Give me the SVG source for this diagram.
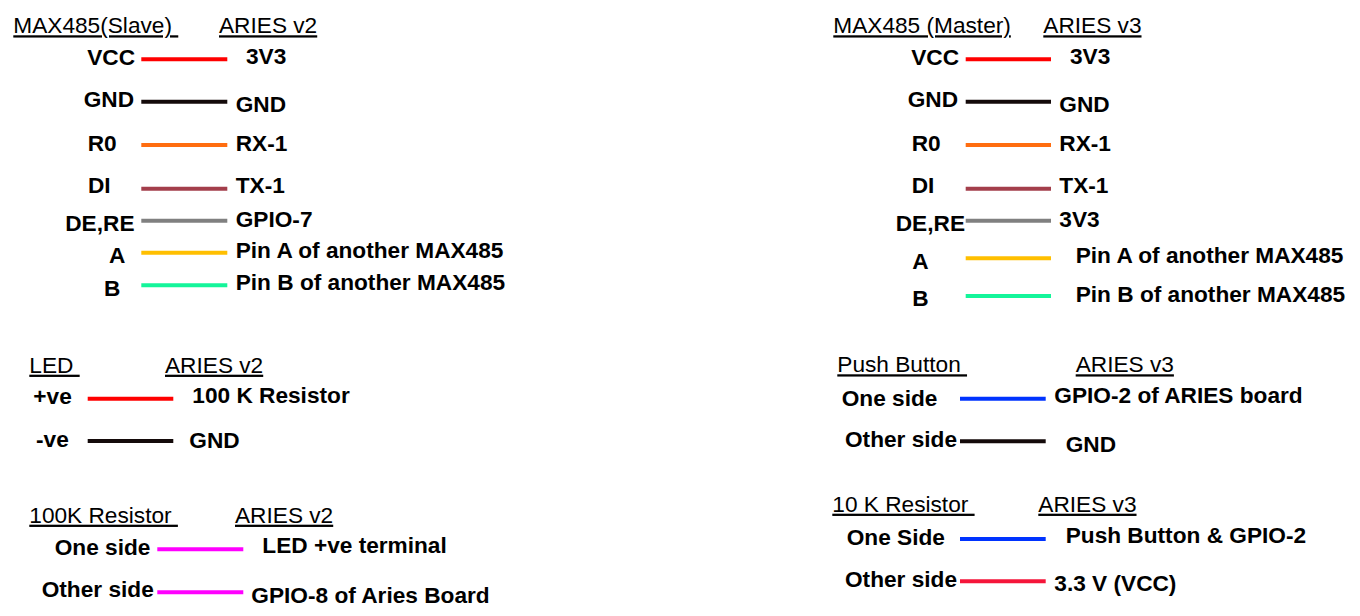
<svg xmlns="http://www.w3.org/2000/svg" width="1360" height="616" viewBox="0 0 1360 616">
<style>
  text { font-family: "Liberation Sans", Arial, sans-serif; font-size: 22.67px; fill: #000; }
  .h { text-decoration: underline; white-space: pre; }
  .b { font-weight: bold; }
  .r { text-anchor: end; }
  line { stroke-width: 4; }
  .red { stroke: #ff0000; }
  .blk { stroke: #140a0a; }
  .org { stroke: #ff6d10; }
  .mar { stroke: #a33e4b; }
  .gry { stroke: #808080; }
  .yel { stroke: #ffbf00; }
  .grn { stroke: #14f59a; }
  .mag { stroke: #ff00ff; }
  .blu { stroke: #0033ff; }
  .crm { stroke: #f5153a; }
</style>
<rect width="1360" height="616" fill="#ffffff"/>

<!-- Section 1: MAX485 (Slave) to ARIES v2 -->
<g id="slave-section">
  <g id="h-slave"><text class="h" x="13.3" y="33.3" xml:space="preserve">MAX485(Slave) </text></g>
  <g id="h-aries-v2-a"><text class="h" x="219" y="33.3">ARIES v2</text></g>
  <g id="s-vcc"><text class="b r" x="135" y="65">VCC</text></g>
  <g id="s-3v3"><text class="b" x="246" y="64.3">3V3</text></g>
  <g id="s-gnd"><text class="b r" x="134" y="107.3">GND</text></g>
  <g id="s-gnd2"><text class="b" x="235.7" y="112.3">GND</text></g>
  <g id="s-r0"><text class="b" x="87.7" y="151">R0</text></g>
  <g id="s-rx1"><text class="b" x="235.7" y="151">RX-1</text></g>
  <g id="s-di"><text class="b" x="88" y="193.3">DI</text></g>
  <g id="s-tx1"><text class="b" x="235.7" y="193.3">TX-1</text></g>
  <g id="s-dere"><text class="b r" x="134.5" y="231.3">DE,RE</text></g>
  <g id="s-gpio7"><text class="b" x="235.7" y="226.7">GPIO-7</text></g>
  <g id="s-a"><text class="b" x="109" y="263.3">A</text></g>
  <g id="s-pina"><text class="b" x="235.7" y="258.3">Pin A of another MAX485</text></g>
  <g id="s-b"><text class="b" x="104" y="296">B</text></g>
  <g id="s-pinb"><text class="b" x="235.7" y="290">Pin B of another MAX485</text></g>
</g>

<!-- Section 2: MAX485 (Master) to ARIES v3 -->
<g id="master-section">
  <g id="h-master"><text class="h" x="833.3" y="33.3">MAX485 (Master)</text></g>
  <g id="h-aries-v3-a"><text class="h" x="1043.3" y="33.3">ARIES v3</text></g>
  <g id="m-vcc"><text class="b r" x="959" y="65">VCC</text></g>
  <g id="m-3v3"><text class="b" x="1070" y="64.3">3V3</text></g>
  <g id="m-gnd"><text class="b r" x="958" y="107.3">GND</text></g>
  <g id="m-gnd2"><text class="b" x="1059.3" y="112.3">GND</text></g>
  <g id="m-r0"><text class="b" x="911.7" y="151">R0</text></g>
  <g id="m-rx1"><text class="b" x="1059.3" y="151">RX-1</text></g>
  <g id="m-di"><text class="b" x="911.7" y="193.3">DI</text></g>
  <g id="m-tx1"><text class="b" x="1059.3" y="193.3">TX-1</text></g>
  <g id="m-dere"><text class="b r" x="965" y="231.3">DE,RE</text></g>
  <g id="m-3v3b"><text class="b" x="1059.3" y="226.7">3V3</text></g>
  <g id="m-a"><text class="b" x="912.3" y="269.3">A</text></g>
  <g id="m-pina"><text class="b" x="1075.7" y="263.3">Pin A of another MAX485</text></g>
  <g id="m-b"><text class="b" x="912.3" y="306">B</text></g>
  <g id="m-pinb"><text class="b" x="1075.7" y="301.7">Pin B of another MAX485</text></g>
</g>

<!-- Section 3: LED to ARIES v2 -->
<g id="led-section">
  <g id="h-led"><text class="h" x="29.3" y="372.7" xml:space="preserve">LED </text></g>
  <g id="h-aries-v2-b"><text class="h" x="165" y="372.7">ARIES v2</text></g>
  <g id="l-pos"><text class="b" x="33.3" y="404.3">+ve</text></g>
  <g id="l-res"><text class="b" x="192.3" y="403.3">100 K Resistor</text></g>
  <g id="l-neg"><text class="b" x="36" y="446.7">-ve</text></g>
  <g id="l-gnd"><text class="b" x="189.3" y="448.3">GND</text></g>
</g>

<!-- Section 4: 100K Resistor to ARIES v2 -->
<g id="resistor100k-section">
  <g id="h-res100k"><text class="h" x="29.3" y="522.7" xml:space="preserve">100K Resistor </text></g>
  <g id="h-aries-v2-c"><text class="h" x="235" y="522.7">ARIES v2</text></g>
  <g id="r-one"><text class="b" x="54.7" y="555">One side</text></g>
  <g id="r-ledpos"><text class="b" x="262.3" y="553.3">LED +ve terminal</text></g>
  <g id="r-other"><text class="b" x="41.7" y="597.3">Other side</text></g>
  <g id="r-gpio8"><text class="b" x="251.3" y="603.3">GPIO-8 of Aries Board</text></g>
</g>

<!-- Section 5: Push Button to ARIES v3 -->
<g id="button-section">
  <g id="h-button"><text class="h" x="837.3" y="372.3" xml:space="preserve">Push Button </text></g>
  <g id="h-aries-v3-b"><text class="h" x="1075.7" y="372.3">ARIES v3</text></g>
  <g id="p-one"><text class="b" x="841.7" y="405.7">One side</text></g>
  <g id="p-gpio2"><text class="b" x="1054.3" y="403.3">GPIO-2 of ARIES board</text></g>
  <g id="p-other"><text class="b" x="845" y="446.7">Other side</text></g>
  <g id="p-gnd"><text class="b" x="1065.7" y="452.3">GND</text></g>
</g>

<!-- Section 6: 10 K Resistor to ARIES v3 -->
<g id="resistor10k-section">
  <g id="h-res10k"><text class="h" x="832.3" y="511.7" xml:space="preserve">10 K Resistor </text></g>
  <g id="h-aries-v3-c"><text class="h" x="1038.3" y="511.7">ARIES v3</text></g>
  <g id="k-one"><text class="b" x="846.7" y="545">One Side</text></g>
  <g id="k-pbgpio"><text class="b" x="1065.7" y="543.3">Push Button &amp; GPIO-2</text></g>
  <g id="k-other"><text class="b" x="845" y="586.7">Other side</text></g>
  <g id="k-vcc"><text class="b" x="1054.3" y="591">3.3 V (VCC)</text></g>
</g>

<!-- Connectors -->
<g id="connectors">
  <line class="red" x1="141.3" y1="59.3" x2="227.3" y2="59.3"/>
  <line class="blk" x1="141.3" y1="101.7" x2="227.3" y2="101.7"/>
  <line class="org" x1="141.3" y1="145" x2="227.3" y2="145"/>
  <line class="mar" x1="141.3" y1="188.7" x2="227.3" y2="188.7"/>
  <line class="gry" x1="141.3" y1="220.7" x2="227.3" y2="220.7"/>
  <line class="yel" x1="141.3" y1="252.7" x2="227.3" y2="252.7"/>
  <line class="grn" x1="141.3" y1="285.3" x2="227.3" y2="285.3"/>

  <line class="red" x1="965.7" y1="59.3" x2="1051" y2="59.3"/>
  <line class="blk" x1="965.7" y1="101.7" x2="1051" y2="101.7"/>
  <line class="org" x1="965.7" y1="145" x2="1051" y2="145"/>
  <line class="mar" x1="965.7" y1="188.7" x2="1051" y2="188.7"/>
  <line class="gry" x1="965.7" y1="220.7" x2="1051" y2="220.7"/>
  <line class="yel" x1="965.7" y1="258.3" x2="1051" y2="258.3"/>
  <line class="grn" x1="965.7" y1="296" x2="1051" y2="296"/>

  <line class="red" x1="87.7" y1="398.7" x2="173.3" y2="398.7"/>
  <line class="blk" x1="87.7" y1="441" x2="173.3" y2="441"/>

  <line class="mag" x1="157.3" y1="549.3" x2="243.3" y2="549.3"/>
  <line class="mag" x1="157.3" y1="592.3" x2="243.3" y2="592.3"/>

  <line class="blu" x1="960" y1="398.7" x2="1045.7" y2="398.7"/>
  <line class="blk" x1="960" y1="441.3" x2="1045.7" y2="441.3"/>

  <line class="blu" x1="960" y1="539" x2="1045.7" y2="539"/>
  <line class="crm" x1="960" y1="581.3" x2="1045.7" y2="581.3"/>
</g>
</svg>
